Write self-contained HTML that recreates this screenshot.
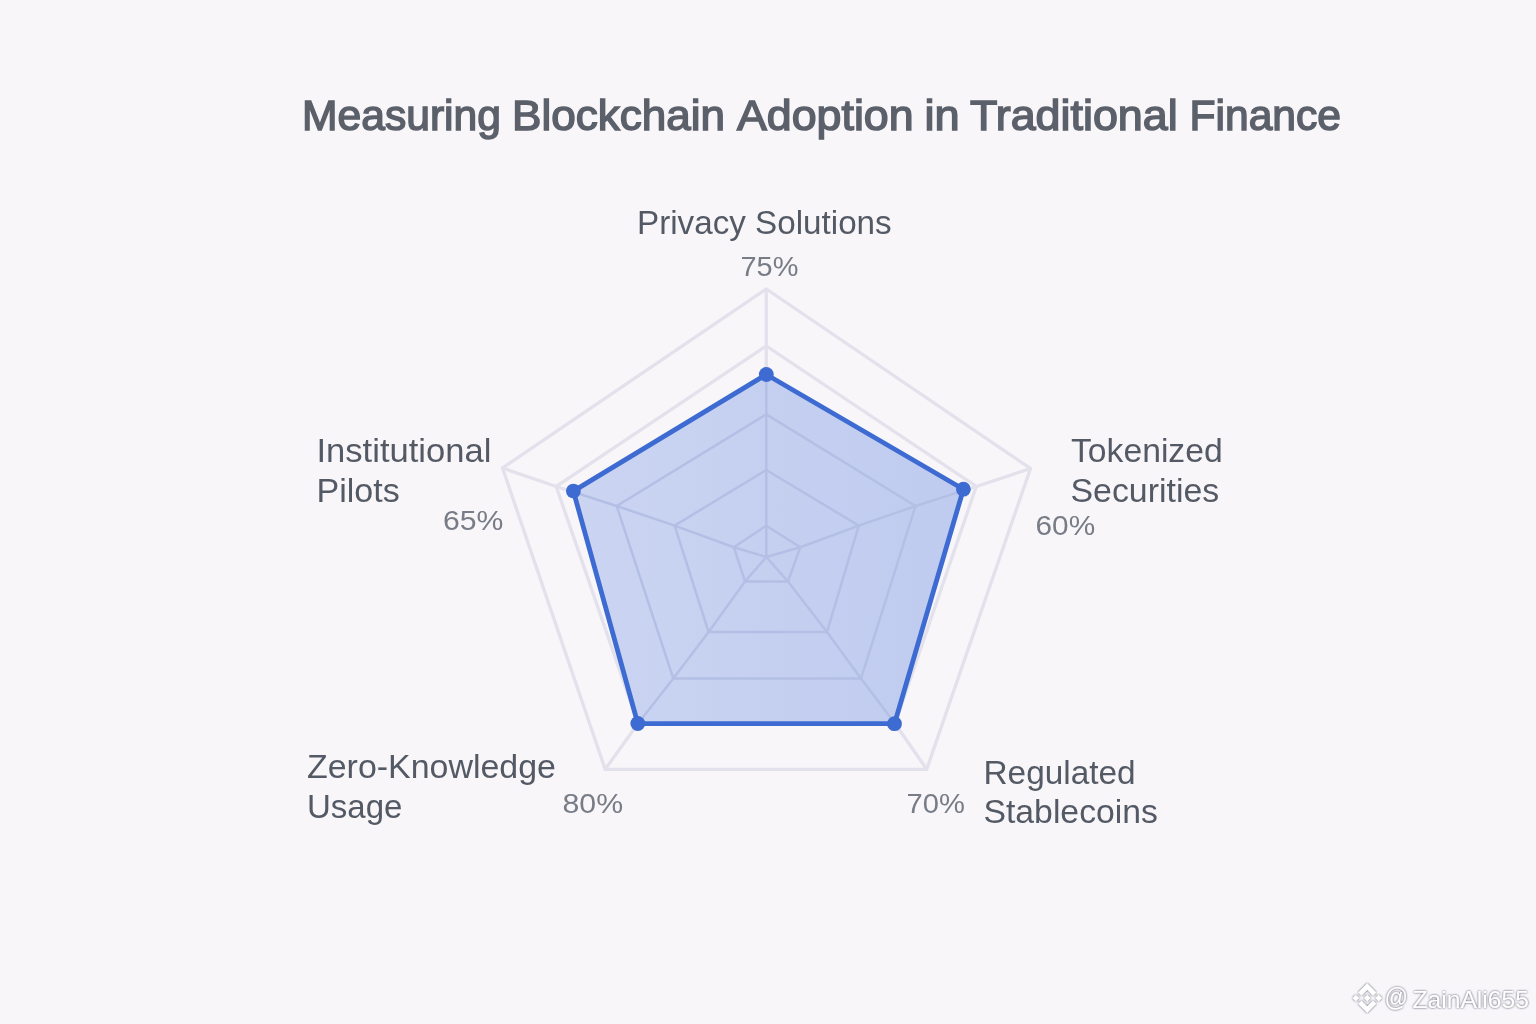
<!DOCTYPE html>
<html>
<head>
<meta charset="utf-8">
<style>
html,body{margin:0;padding:0;width:1536px;height:1024px;overflow:hidden;background:#f8f6f9;}
svg{position:absolute;left:0;top:0;display:block;will-change:transform;}
text{font-family:"Liberation Sans", sans-serif;}
.wm{filter:url(#wmsh);}
</style>
</head>
<body>
<svg width="1536" height="1024" viewBox="0 0 1536 1024">
  <defs>
    <linearGradient id="fillg" x1="0" y1="0" x2="1" y2="0">
      <stop offset="0" stop-color="#cbd5f2"/>
      <stop offset="1" stop-color="#bfcbef"/>
    </linearGradient>
    <filter id="wmsh" x="-20%" y="-20%" width="140%" height="140%">
      <feGaussianBlur in="SourceAlpha" stdDeviation="0.9"/>
      <feOffset dx="0" dy="0.3"/>
      <feComponentTransfer result="b"><feFuncA type="linear" slope="1.4"/></feComponentTransfer>
      <feFlood flood-color="rgb(120,120,138)"/>
      <feComposite in2="b" operator="in"/>
      <feMerge><feMergeNode/><feMergeNode in="SourceGraphic"/></feMerge>
    </filter>
    <clipPath id="dataclip">
      <polygon points="766.3,374.5 963.4,489.2 894.5,723.7 637.8,723.5 573.4,491.1"/>
    </clipPath>
  </defs>
  <rect width="1536" height="1024" fill="#f8f6f9"/>
  <g fill="none" stroke="#e2e1ec" stroke-width="3.3">
    <polygon points="766.3,525.7 800.3,547.2 788.0,581.5 745.0,581.5 733.9,547.2"/>
    <polygon points="766.3,470.0 858.8,525.6 827.0,632.0 708.6,632.0 674.6,525.6"/>
    <polygon points="766.3,414.4 915.5,506.0 861.0,678.6 673.3,678.6 616.7,506.0"/>
    <polygon points="766.3,346.0 976.3,486.5 895.0,723.5 638.0,723.5 556.2,486.5"/>
    <polygon points="766.3,289.0 1030.5,468.5 926.7,769.3 605.2,769.3 502.5,468.0"/>
    <polyline points="766.3,557.0 766.3,525.7 766.3,470.0 766.3,414.4 766.3,346.0 766.3,289.0"/>
    <polyline points="766.3,557.0 800.3,547.2 858.8,525.6 915.5,506.0 976.3,486.5 1030.5,468.5"/>
    <polyline points="766.3,557.0 788.0,581.5 827.0,632.0 861.0,678.6 895.0,723.5 926.7,769.3"/>
    <polyline points="766.3,557.0 745.0,581.5 708.6,632.0 673.3,678.6 638.0,723.5 605.2,769.3"/>
    <polyline points="766.3,557.0 733.9,547.2 674.6,525.6 616.7,506.0 556.2,486.5 502.5,468.0"/>
  </g>
  <polygon points="766.3,374.5 963.4,489.2 894.5,723.7 637.8,723.5 573.4,491.1" fill="url(#fillg)"/>
  <g clip-path="url(#dataclip)" fill="none" stroke="#b3bfe4" stroke-width="2.5">
    <polygon points="766.3,525.7 800.3,547.2 788.0,581.5 745.0,581.5 733.9,547.2"/>
    <polygon points="766.3,470.0 858.8,525.6 827.0,632.0 708.6,632.0 674.6,525.6"/>
    <polygon points="766.3,414.4 915.5,506.0 861.0,678.6 673.3,678.6 616.7,506.0"/>
    <polygon points="766.3,346.0 976.3,486.5 895.0,723.5 638.0,723.5 556.2,486.5"/>
    <polyline points="766.3,557.0 766.3,525.7 766.3,470.0 766.3,414.4 766.3,346.0 766.3,289.0"/>
    <polyline points="766.3,557.0 800.3,547.2 858.8,525.6 915.5,506.0 976.3,486.5 1030.5,468.5"/>
    <polyline points="766.3,557.0 788.0,581.5 827.0,632.0 861.0,678.6 895.0,723.5 926.7,769.3"/>
    <polyline points="766.3,557.0 745.0,581.5 708.6,632.0 673.3,678.6 638.0,723.5 605.2,769.3"/>
    <polyline points="766.3,557.0 733.9,547.2 674.6,525.6 616.7,506.0 556.2,486.5 502.5,468.0"/>
  </g>
  <polygon points="766.3,374.5 963.4,489.2 894.5,723.7 637.8,723.5 573.4,491.1" fill="none" stroke="#3d6bd2" stroke-width="4.8" stroke-linejoin="round"/>
  <g fill="#3d6bd2">
    <circle cx="766.3" cy="374.5" r="7.4"/>
    <circle cx="963.4" cy="489.2" r="7.4"/>
    <circle cx="894.5" cy="723.7" r="7.4"/>
    <circle cx="637.8" cy="723.5" r="7.4"/>
    <circle cx="573.4" cy="491.1" r="7.4"/>
  </g>
  <text x="302.00" y="129.80" font-size="43" fill="#5b606a" textLength="198.92" lengthAdjust="spacingAndGlyphs" stroke="#5b606a" stroke-width="1.5">Measuring</text>
  <text x="512.00" y="129.80" font-size="43" fill="#5b606a" textLength="213.08" lengthAdjust="spacingAndGlyphs" stroke="#5b606a" stroke-width="1.5">Blockchain</text>
  <text x="737.00" y="129.80" font-size="43" fill="#5b606a" textLength="176.64" lengthAdjust="spacingAndGlyphs" stroke="#5b606a" stroke-width="1.5">Adoption</text>
  <text x="924.50" y="129.80" font-size="43" fill="#5b606a" textLength="35.13" lengthAdjust="spacingAndGlyphs" stroke="#5b606a" stroke-width="1.5">in</text>
  <text x="970.00" y="129.80" font-size="43" fill="#5b606a" textLength="207.66" lengthAdjust="spacingAndGlyphs" stroke="#5b606a" stroke-width="1.5">Traditional</text>
  <text x="1189.50" y="129.80" font-size="43" fill="#5b606a" textLength="151.56" lengthAdjust="spacingAndGlyphs" stroke="#5b606a" stroke-width="1.5">Finance</text>
  <text x="637.00" y="233.70" font-size="34" fill="#545a65" textLength="254.70" lengthAdjust="spacingAndGlyphs">Privacy Solutions</text>
  <text x="316.50" y="461.80" font-size="34" fill="#545a65" textLength="174.89" lengthAdjust="spacingAndGlyphs">Institutional</text>
  <text x="316.50" y="501.90" font-size="34" fill="#545a65" textLength="83.15" lengthAdjust="spacingAndGlyphs">Pilots</text>
  <text x="1071.00" y="461.80" font-size="34" fill="#545a65" textLength="151.69" lengthAdjust="spacingAndGlyphs">Tokenized</text>
  <text x="1070.50" y="501.90" font-size="34" fill="#545a65" textLength="148.68" lengthAdjust="spacingAndGlyphs">Securities</text>
  <text x="307.00" y="777.60" font-size="34" fill="#545a65" textLength="248.88" lengthAdjust="spacingAndGlyphs">Zero-Knowledge</text>
  <text x="307.00" y="817.50" font-size="34" fill="#545a65" textLength="95.36" lengthAdjust="spacingAndGlyphs">Usage</text>
  <text x="983.50" y="783.70" font-size="34" fill="#545a65" textLength="152.13" lengthAdjust="spacingAndGlyphs">Regulated</text>
  <text x="983.50" y="823.40" font-size="34" fill="#545a65" textLength="174.36" lengthAdjust="spacingAndGlyphs">Stablecoins</text>
  <text x="740.50" y="275.60" font-size="28.5" fill="#777c87" textLength="57.88" lengthAdjust="spacingAndGlyphs">75%</text>
  <text x="443.00" y="529.60" font-size="28.5" fill="#777c87" textLength="60.39" lengthAdjust="spacingAndGlyphs">65%</text>
  <text x="1035.50" y="534.90" font-size="28.5" fill="#777c87" textLength="59.62" lengthAdjust="spacingAndGlyphs">60%</text>
  <text x="562.50" y="812.60" font-size="28.5" fill="#777c87" textLength="60.57" lengthAdjust="spacingAndGlyphs">80%</text>
  <text x="906.50" y="812.90" font-size="28.5" fill="#777c87" textLength="58.30" lengthAdjust="spacingAndGlyphs">70%</text>
  <text x="1384.40" y="1006.00" font-size="25" fill="#ffffff" textLength="23.48" lengthAdjust="spacingAndGlyphs" class="wm">@</text>
  <text x="1412.50" y="1007.80" font-size="24.5" fill="#ffffff" textLength="116.38" lengthAdjust="spacingAndGlyphs" class="wm">ZainAli655</text>
  <g class="wm"><g transform="translate(1352.4,983.3) scale(0.234)" fill="#ffffff">
    <path d="M38.73 53.2l24.59-24.58 24.6 24.6 14.3-14.31L63.32 0 24.43 38.9l14.3 14.3z M0 63.31l14.3-14.31 14.31 14.31-14.31 14.3z M38.73 73.41l24.59 24.59 24.6-24.6 14.31 14.29-38.9 38.91-38.91-38.88-.02-.02z M98 63.31l14.3-14.31 14.31 14.31-14.31 14.3z M77.83 63.3L63.32 48.78 52.59 59.51l-1.24 1.23-2.54 2.54-.02.02.02.03 14.51 14.5 14.51-14.52.01-.01z"/>
  </g></g>
</svg>
</body>
</html>
